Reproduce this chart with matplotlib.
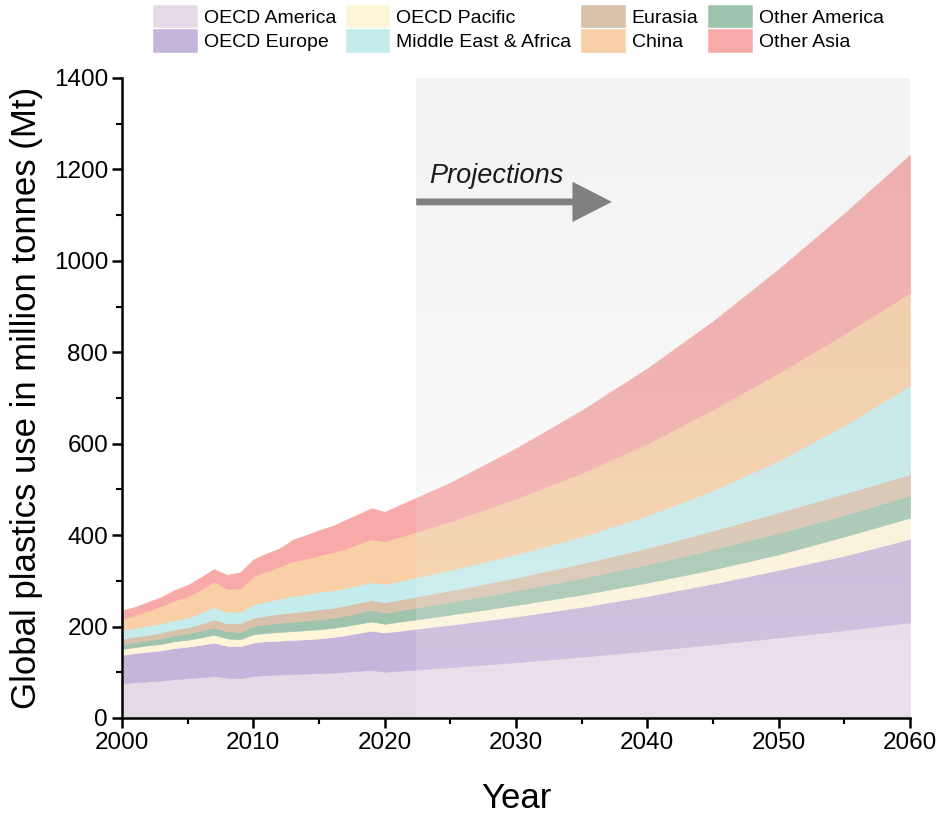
import numpy as np
import matplotlib
matplotlib.use('Agg')
import matplotlib.pyplot as plt
from matplotlib.patches import FancyArrow
from matplotlib.ticker import MultipleLocator

plt.rcParams['font.family'] = ['Liberation Sans', 'DejaVu Sans']

# yearly history 2000-2020, then projections every 5 years
years = list(range(2000, 2021)) + [2025, 2030, 2035, 2040, 2045, 2050, 2055, 2060]

oecd_america = [76, 78, 80, 82, 85, 87, 89, 92, 88, 87, 92, 94, 95, 96, 97, 98, 99, 101, 103, 105, 101,
                111, 122, 134, 147, 161, 176, 192, 209]
oecd_europe = [62, 64, 65, 66, 68, 69, 71, 73, 70, 70, 73, 74, 74, 75, 75, 76, 78, 80, 83, 86, 86,
               93, 100, 109, 120, 133, 148, 163, 183]
oecd_pacific = [13, 13, 14, 14, 15, 15, 16, 17, 16, 15, 18, 18, 19, 19, 20, 20, 20, 20, 20, 20, 19,
                22, 25, 27, 29, 31, 34, 42, 46]
other_america = [10, 11, 11, 12, 13, 14, 15, 16, 16, 16, 18, 19, 20, 21, 21, 22, 22, 23, 24, 25, 24,
                 28, 32, 36, 40, 44, 47, 47, 49]
eurasia = [12, 12, 12, 13, 13, 13, 15, 18, 17, 20, 18, 19, 20, 20, 21, 22, 22, 22, 22, 22, 23,
           25, 28, 32, 36, 41, 45, 47, 46]
mid_east_africa = [19, 19, 20, 20, 20, 21, 24, 27, 25, 24, 30, 31, 33, 36, 36, 38, 38, 38, 39, 39, 40,
                   45, 51, 59, 71, 88, 113, 149, 195]
china = [25, 28, 33, 38, 43, 47, 51, 55, 51, 51, 61, 66, 70, 76, 78, 80, 83, 86, 90, 94, 93,
         106, 122, 139, 157, 177, 192, 200, 202]
other_asia = [19, 18, 19, 20, 23, 25, 27, 28, 30, 36, 37, 39, 40, 47, 52, 55, 58, 63, 65, 68, 65,
              85, 110, 137, 165, 193, 227, 264, 302]

# stacking order bottom -> top
stack_names = ['OECD America', 'OECD Europe', 'OECD Pacific', 'Other America',
               'Eurasia', 'Middle East & Africa', 'China', 'Other Asia']
stack_values = [oecd_america, oecd_europe, oecd_pacific, other_america,
                eurasia, mid_east_africa, china, other_asia]
colors = {'OECD America': '#e6d9e8', 'OECD Europe': '#c5b5da', 'OECD Pacific': '#fff6d9',
          'Other America': '#9fc4ad', 'Eurasia': '#d9c2ac', 'Middle East & Africa': '#c5ecec',
          'China': '#f9cfa5', 'Other Asia': '#f8aaa8'}

proj_start = 2022.4

fig = plt.figure(figsize=(9.5, 8.18), dpi=100)
ax = fig.add_axes([122 / 950, 1 - 718 / 818, 788 / 950, 640 / 818])

polys = ax.stackplot(years, *stack_values, colors=[colors[n] for n in stack_names],
                     labels=stack_names, linewidth=0.4, edgecolor='face', zorder=2)

# grey gradient over the projection period
n = 256
t = np.linspace(0, 1, n)[:, None]
grey = (200 + 55 * t ** 1.5) / 255.0
img = np.zeros((n, 2, 4))
img[..., 0] = grey
img[..., 1] = grey
img[..., 2] = grey
img[..., 3] = 0.21
ax.imshow(img, extent=[proj_start, 2060, 0, 1400], aspect='auto', origin='upper',
          interpolation='bilinear', zorder=3)

# projections arrow
ax.add_patch(FancyArrow(proj_start, 1129, 2037.3 - proj_start, 0, width=15, head_width=88,
                        head_length=3.0, length_includes_head=True, color='#808080',
                        linewidth=0, zorder=4))
ax.text(2023.4, 1186, 'Projections', fontsize=19.5, style='italic', ha='left', va='center',
        color='#1a1a1a', zorder=5)

ax.set_xlim(2000, 2060)
ax.set_ylim(0, 1400)
ax.xaxis.set_major_locator(MultipleLocator(10))
ax.xaxis.set_minor_locator(MultipleLocator(5))
ax.yaxis.set_major_locator(MultipleLocator(200))
ax.yaxis.set_minor_locator(MultipleLocator(100))
for s in ['top', 'right']:
    ax.spines[s].set_visible(False)
for s in ['left', 'bottom']:
    ax.spines[s].set_linewidth(1.8)
    ax.spines[s].set_zorder(6)
ax.tick_params(which='major', direction='out', length=7, width=1.8, labelsize=17.5, pad=3)
ax.tick_params(which='minor', direction='out', length=4, width=1.5)

ax.set_xlabel('Year', fontsize=25, labelpad=20)
ax.set_ylabel('Global plastics use in million tonnes (Mt)', fontsize=25, labelpad=8)

# legend laid out column-wise, 2 rows x 4 columns
legend_order = ['OECD America', 'OECD Europe', 'OECD Pacific', 'Middle East & Africa',
                'Eurasia', 'China', 'Other America', 'Other Asia']
handle_map = dict(zip(stack_names, polys))
fig.legend([handle_map[k] for k in legend_order], legend_order, ncol=4,
           loc='upper left', bbox_to_anchor=(153 / 950, 1 - 5 / 818), frameon=False,
           fontsize=14, handlelength=2.25, handleheight=1.4, handletextpad=0.35,
           columnspacing=0.5, labelspacing=0.1, borderpad=0, borderaxespad=0)

fig.savefig('out.png', dpi=100)
